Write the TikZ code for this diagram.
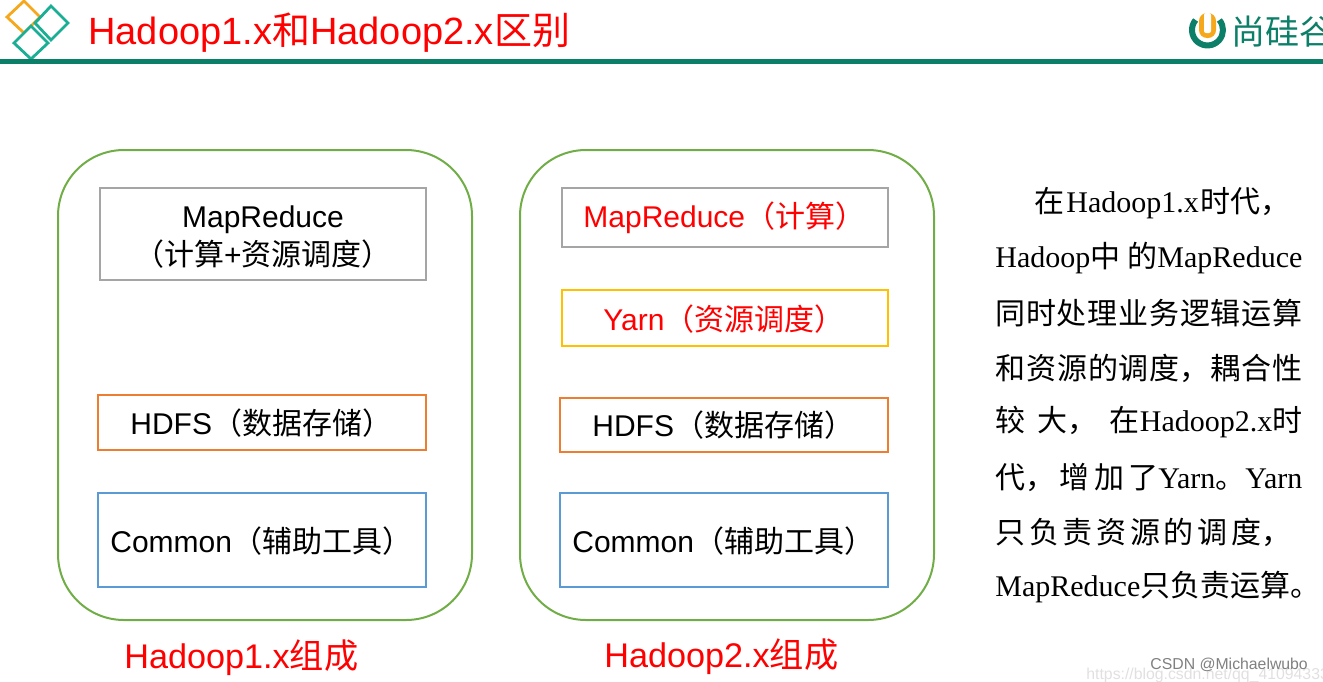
\documentclass[tikz,border=0pt]{standalone}
\usepackage{fontspec}
\setmainfont{Liberation Sans}
\newfontfamily\cjk{Noto Sans CJK SC}
\newfontfamily\serifrm{Liberation Serif}
\newcommand{\zh}[1]{{\cjk #1}}
\newcommand{\spreadline}[2]{\parbox[c]{#1}{\parfillskip=0pt\parindent=0pt #2}}
\XeTeXlinebreaklocale "zh"
\XeTeXlinebreakskip=0pt plus 1pt
\hbadness=10000
\definecolor{barGreen}{HTML}{0B7F68}
\definecolor{tealMark}{HTML}{1AAE94}
\definecolor{orangeMark}{HTML}{F5A81C}
\definecolor{frameGreen}{HTML}{70AD47}
\definecolor{boxGray}{HTML}{A5A5A5}
\definecolor{boxOrange}{HTML}{ED7D31}
\definecolor{boxYellow}{HTML}{FFC000}
\definecolor{boxBlue}{HTML}{5B9BD5}
\tikzset{
	frame/.style={draw=frameGreen,line width=1pt,rounded corners=33pt},
	layer/.style={line width=0.7pt},
	boxtext/.style={anchor=west,inner sep=0pt,font=\fontsize{15}{17}\selectfont},
	redtext/.style={boxtext,text=red},
	caption/.style={anchor=west,inner sep=0pt,text=red,font=\fontsize{17.1}{20}\selectfont},
	sideline/.style={anchor=west,inner sep=0pt,font=\fontsize{15}{18}\serifrm},
	logomark/.style={line width=1.4pt,line join=miter}
}
\begin{document}
\begin{tikzpicture}[x=0.5pt,y=-0.5pt]
	\useasboundingbox (0,0) rectangle (1323,681);
	% heading
	\draw[logomark,orangeMark] (24,1) -- (40,17) -- (24,33) -- (7,17) -- cycle;
	\draw[logomark,tealMark] (51,6) -- (68,23) -- (51,40) -- (35,23) -- cycle;
	\draw[logomark,tealMark,fill=white] (31,26) -- (48,43) -- (31,59) -- (14,43) -- cycle;
	\fill[barGreen] (0,59) rectangle (1323,64);
	\node[anchor=west,inner sep=0pt,text=red,font=\fontsize{19}{22}\selectfont] (title) at (88,33) {Hadoop1.x\zh{和}Hadoop2.x\zh{区别}};
	% logo
	\draw[barGreen,line width=3pt] (1195.6,20) arc (220:-40:15.5);
	\fill[orangeMark,rounded corners=4pt] (1199,13) rectangle (1216,38);
	\fill[white,rounded corners=1pt] (1204,13) rectangle (1211,33);
	\begin{scope}
		\clip (1228,0) rectangle (1323,59);
		\node[anchor=west,inner sep=0pt,text=barGreen,font=\fontsize{17}{20}\cjk] (logotext) at (1231,32) {尚硅谷};
	\end{scope}
	% left stack
	\draw[frame] (58,150) rectangle (472,620);
	\draw[layer,draw=boxGray] (100,188) rectangle (426,280);
	\node[boxtext,anchor=center] (mrone) at (263,220) {MapReduce};
	\node[boxtext,anchor=center] (mrtwo) at (263,254) {\zh{（计算}+\zh{资源调度）}};
	\draw[layer,draw=boxOrange] (98,395) rectangle (426,450);
	\node[boxtext] (hdfsone) at (130,423) {HDFS\zh{（数据存储）}};
	\draw[layer,draw=boxBlue] (98,493) rectangle (426,587);
	\node[boxtext] (commonone) at (110,541) {Common\zh{（辅助工具）}};
	\node[caption] (capone) at (124,658) {Hadoop1.x\zh{组成}};
	% right stack
	\draw[frame] (520,150) rectangle (934,620);
	\draw[layer,draw=boxGray] (562,188) rectangle (888,247);
	\node[redtext] (mrred) at (583,218) {MapReduce\zh{（计算）}};
	\draw[layer,draw=boxYellow] (562,290) rectangle (888,346);
	\node[redtext] (yarn) at (603,319) {Yarn\zh{（资源调度）}};
	\draw[layer,draw=boxOrange] (560,398) rectangle (888,452);
	\node[boxtext] (hdfstwo) at (592,425) {HDFS\zh{（数据存储）}};
	\draw[layer,draw=boxBlue] (560,493) rectangle (888,587);
	\node[boxtext] (commontwo) at (572,541) {Common\zh{（辅助工具）}};
	\node[caption] (captwo) at (604,657) {Hadoop2.x\zh{组成}};
	% side text
	\node[sideline] (lineone) at (1034,203) {\zh{在}\hspace{1pt}Hadoop1.x\hspace{1pt}\zh{时代，}};
	\node[sideline] (linetwo) at (995,258) {\spreadline{153.5pt}{Hadoop\zh{中的}MapReduce}};
	\node[sideline] (linethree) at (995,313) {\spreadline{153.5pt}{\zh{同时处理业务逻辑运算}}};
	\node[sideline] (linefour) at (995,368) {\spreadline{153.5pt}{\zh{和资源的调度，耦合性}}};
	\node[sideline] (linefive) at (995,422) {\spreadline{153.5pt}{\zh{较大，在}Hadoop2.x\zh{时}}};
	\node[sideline] (linesix) at (995,477) {\spreadline{153.5pt}{\zh{代，增加了}Yarn\zh{。}Yarn}};
	\node[sideline] (lineseven) at (995,532) {\spreadline{148pt}{\zh{只负责资源的调度，}}};
	\node[sideline] (lineeight) at (995,587) {\spreadline{162.5pt}{MapReduce\zh{只负责运算。}}};
	% watermark
	\node[anchor=west,inner sep=0pt,text=black!12,font=\fontsize{7.9}{10}\selectfont] (wmurl) at (1086,675) {https://blog.csdn.net/qq\_41094333};
	\node[anchor=west,inner sep=0pt,text=black!50,font=\fontsize{7.9}{10}\selectfont] (wmname) at (1150,665) {CSDN @Michaelwubo};
\end{tikzpicture}
\end{document}
